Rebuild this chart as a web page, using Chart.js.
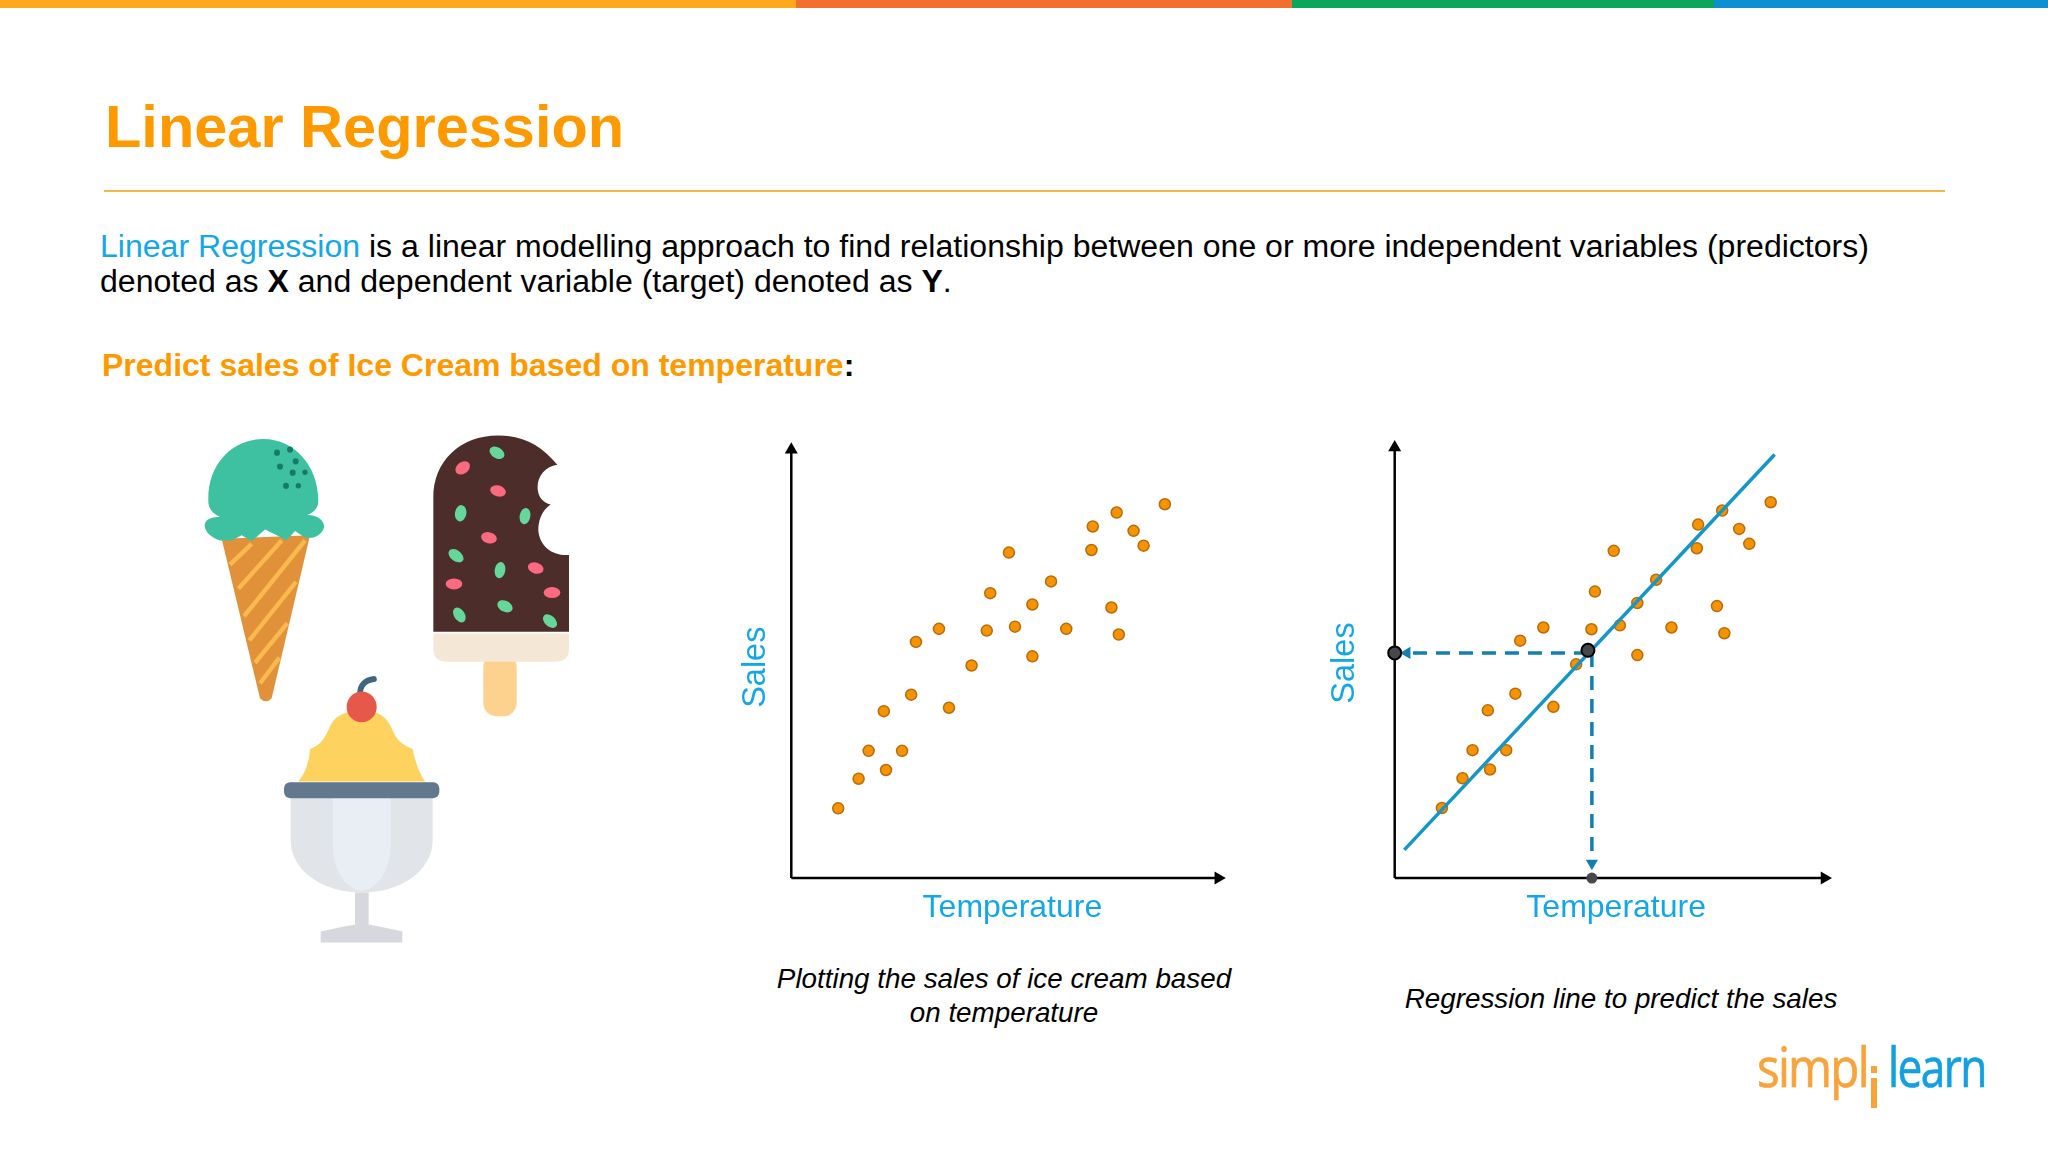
<!DOCTYPE html>
<html>
<head>
<meta charset="utf-8">
<title>Linear Regression</title>
<script src="https://cdn.jsdelivr.net/npm/chart.js@4"></script>
<style>
    body { margin: 0; background: #fff; width: 2048px; height: 1152px; overflow: hidden; position: relative; font-family: "Liberation Sans", Arial, sans-serif; }
    .abs { position: absolute; white-space: nowrap; }
    .bar { position: absolute; top: 0; height: 8px; }
    #title { left: 105px; top: 97px; font-size: 59.5px; line-height: 60px; font-weight: bold; color: #FF9900; }
    #rule { position: absolute; left: 104px; top: 190px; width: 1841px; height: 2px; background: #F4B64E; }
    #intro { left: 100px; top: 229px; font-size: 32.05px; line-height: 35px; color: #000; }
    #intro span { color: #13A7E8; }
    #subhead { left: 102px; top: 347px; font-size: 32px; line-height: 36px; font-weight: bold; color: #000; }
    #subhead span { color: #FF9900; }
    .caption { font-size: 27.8px; line-height: 34px; font-style: italic; color: #000; text-align: center; }
    canvas { position: absolute; }
    .logo { top: 1031px; font-family: "Open Sans", sans-serif; font-size: 54px; line-height: 70px; letter-spacing: -2px; -webkit-text-stroke: 0.7px; transform-origin: left center; }
</style>
</head>
<body>
<div class="bar" style="left:0;width:796px;background:#FFA81D"></div>
<div class="bar" style="left:796px;width:496px;background:#F36F2F"></div>
<div class="bar" style="left:1292px;width:422px;background:#0AA75A"></div>
<div class="bar" style="left:1714px;width:334px;background:#0E8FD0"></div>

<div class="abs" id="title">Linear Regression</div>
<div id="rule"></div>
<div class="abs" id="intro"><span>Linear Regression</span> is a linear modelling approach to find relationship between one or more independent variables (predictors)<br>denoted as <b>X</b> and dependent variable (target) denoted as <b>Y</b>.</div>
<div class="abs" id="subhead"><span>Predict sales of Ice Cream based on temperature</span>:</div>

<!-- ice cream pictures, drawn in the 3x crop coordinates -->
<svg class="abs" style="left:170px;top:420px" width="430" height="540" viewBox="0 0 1290 1568" preserveAspectRatio="none">
    <!-- cone -->
    <path d="M155 345 L420 335 L305 808 Q288 826 270 808 Z" fill="#E0913A"/>
    <g stroke="#F9B94F" stroke-width="13" fill="none">
        <path d="M180 420 L245 360"/><path d="M205 490 L335 350"/><path d="M222 570 L405 350"/>
        <path d="M238 640 L378 470"/><path d="M255 705 L352 590"/><path d="M270 765 L328 690"/>
    </g>
    <!-- scoop -->
    <path d="M115 235 C112 125 190 55 280 55 C370 55 445 130 445 235 C445 255 432 268 412 276 C445 276 465 295 462 312 C455 335 425 350 400 338 L375 322 L350 350 L320 335 L285 318 L245 352 L215 335 L185 350 L150 350 C120 340 100 320 105 300 C112 285 130 282 150 282 C125 270 115 255 115 235 Z" fill="#3DC1A1"/>
    <g fill="#177A66">
        <circle cx="321" cy="95" r="9"/><circle cx="360" cy="86" r="9"/><circle cx="377" cy="120" r="9"/><circle cx="330" cy="135" r="9"/>
        <circle cx="368" cy="153" r="9"/><circle cx="405" cy="152" r="8"/><circle cx="348" cy="191" r="9"/><circle cx="385" cy="191" r="8"/>
    </g>
    <!-- popsicle -->
    <rect x="940" y="680" width="100" height="180" rx="38" fill="#FDD28E"/>
    <path d="M790 620 H1197 V665 Q1197 702 1155 702 H832 Q790 702 790 665 Z" fill="#F5E7D5"/>
    <path d="M790 615 V225 C790 120 870 45 985 45 C1060 45 1115 75 1162 130 C1125 135 1100 165 1103 200 C1105 225 1120 240 1142 245 C1120 260 1105 285 1105 320 C1108 365 1145 395 1197 392 V615 Z" fill="#4D2D2A"/>
    <g fill="#FB6A7E">
        <ellipse cx="878" cy="139" rx="24" ry="17" transform="rotate(-35 878 139)"/><ellipse cx="984" cy="206" rx="24" ry="16" transform="rotate(15 984 206)"/>
        <ellipse cx="957" cy="342" rx="24" ry="16" transform="rotate(12 957 342)"/><ellipse cx="1097" cy="430" rx="24" ry="16" transform="rotate(15 1097 430)"/>
        <ellipse cx="852" cy="476" rx="25" ry="16"/><ellipse cx="1146" cy="501" rx="25" ry="16"/>
    </g>
    <g fill="#66D79B">
        <ellipse cx="981" cy="95" rx="24" ry="16" transform="rotate(30 981 95)"/><ellipse cx="872" cy="271" rx="24" ry="17" transform="rotate(-80 872 271)"/>
        <ellipse cx="1065" cy="279" rx="24" ry="16" transform="rotate(-80 1065 279)"/><ellipse cx="858" cy="394" rx="25" ry="16" transform="rotate(35 858 394)"/>
        <ellipse cx="990" cy="436" rx="24" ry="16" transform="rotate(-80 990 436)"/><ellipse cx="1005" cy="541" rx="24" ry="16" transform="rotate(25 1005 541)"/>
        <ellipse cx="868" cy="566" rx="24" ry="16" transform="rotate(55 868 566)"/><ellipse cx="1140" cy="584" rx="24" ry="16" transform="rotate(40 1140 584)"/>
    </g>
    <!-- sundae -->
    <path d="M385 1050 C410 1020 418 985 420 955 C450 945 465 925 480 890 C495 860 520 845 575 845 C630 845 650 860 670 905 C680 930 700 945 728 955 C735 990 745 1020 765 1050 Z" fill="#FDD25E"/>
    <path d="M570 795 C570 770 585 755 612 752" fill="none" stroke="#3F6580" stroke-width="17" stroke-linecap="round"/>
    <circle cx="575" cy="833" r="45" fill="#E6594A"/>
    <path d="M362 1095 H788 V1220 C788 1310 690 1372 575 1372 C460 1372 362 1310 362 1220 Z" fill="#E1E5E9"/>
    <path d="M488 1095 H662 V1230 C662 1300 630 1360 575 1368 C520 1360 488 1300 488 1230 Z" fill="#E9EEF5"/>
    <rect x="342" y="1052" width="466" height="46" rx="18" fill="#62798D"/>
    <path d="M555 1372 H596 V1465 Q650 1475 697 1485 V1517 H452 V1485 Q500 1475 555 1465 Z" fill="#D6D8DE"/>
</svg>

<canvas id="scatterChart" width="540" height="540" style="left:720px;top:420px"></canvas>
<canvas id="regressionChart" width="540" height="540" style="left:1320px;top:420px"></canvas>

<div class="abs caption" style="left:704px;width:600px;top:962px">Plotting the sales of ice cream based<br>on temperature</div>
<div class="abs caption" style="left:1321px;width:600px;top:982px">Regression line to predict the sales</div>

<div class="abs logo" style="left:1757px;color:#F9A33B;transform:scaleX(0.88)">simpl</div>
<div class="abs logo" style="left:1888px;color:#13A0E0;transform:scaleX(0.82)">learn</div>
<div class="abs" style="left:1871px;top:1066px;width:6px;height:7px;background:#F9A33B"></div>
<div class="abs" style="left:1871px;top:1078px;width:6px;height:30px;background:#F9A33B"></div>

<script>
// values, both axes run 0 to 100
const temperature = [10.8, 15.5, 17.8, 21.8, 25.5, 21.3, 27.6, 36.3, 28.7, 34.0, 41.5, 45.0, 45.8, 51.5, 55.5, 55.5, 50.1, 59.8, 63.3, 69.1, 69.4, 73.7, 75.4, 74.9, 78.8, 81.1, 86.0];
const sales = [16.0, 22.8, 29.2, 24.8, 29.2, 38.3, 42.1, 39.1, 54.2, 57.2, 48.8, 56.8, 65.4, 57.7, 50.9, 62.8, 74.7, 68.1, 57.2, 75.3, 80.7, 62.1, 55.9, 83.9, 79.7, 76.3, 85.8];

// regression line ends
const lineTemperature = [2.2, 86.9];
const lineSales = [6.45, 96.7];

// prediction
const fitTemperature = 44.2;
const fitSales = 52.0;
const predictedTemperature = 45.1;
const predictedSales = 51.4;

const BLUE = "#13A7E8";
const DASH_BLUE = "#127FB0";

const toPoints = (xs, ys) => xs.map((x, i) => ({ x: x, y: ys[i] }));

function scatterDataset() {
    return {
        type: "scatter",
        data: toPoints(temperature, sales),
        backgroundColor: "#F59300",
        borderColor: "#B96C0C",
        borderWidth: 1.5,
        pointRadius: 5.5,
        order: 5,
        clip: false,
    };
}

// the two axes with their arrow heads, the arrows sit just inside the 100 end
function axisDatasets() {
    const axisLine = (data) => ({
        type: "line",
        data: data,
        borderColor: "#000",
        borderWidth: 2.5,
        pointRadius: 0,
        order: 4,
        clip: false,
    });
    const arrow = (point, rotation) => ({
        type: "scatter",
        data: [point],
        pointStyle: "triangle",
        pointRotation: rotation,
        pointRadius: 7.5,
        backgroundColor: "#000",
        borderWidth: 0,
        order: 4,
        clip: false,
    });
    return [
        axisLine([{ x: 0, y: 0 }, { x: 98, y: 0 }]),
        axisLine([{ x: 0, y: 0 }, { x: 0, y: 98 }]),
        arrow({ x: 98.3, y: 0 }, 90),
        arrow({ x: 0, y: 98.3 }, 0),
    ];
}

// the ranges run a little past the axes so the titles land where the slide has them
function chartOptions(padding, xMax, yMin, xTitlePad, yTitlePad) {
    return {
        responsive: false,
        animation: false,
        layout: { padding: padding },
        plugins: { legend: { display: false }, tooltip: { enabled: false } },
        scales: {
            x: {
                type: "linear",
                min: 0,
                max: xMax,
                grid: { display: false, drawTicks: false },
                ticks: { display: false },
                border: { display: false },
                title: { display: true, text: "Temperature", color: BLUE, font: { size: 32, family: "Liberation Sans", lineHeight: 1 }, padding: { top: xTitlePad, bottom: 0 } },
            },
            y: {
                type: "linear",
                min: yMin,
                max: 100,
                grid: { display: false, drawTicks: false },
                ticks: { display: false },
                border: { display: false },
                title: { display: true, text: "Sales", color: BLUE, font: { size: 32.5, family: "Liberation Sans", lineHeight: 1 }, padding: { top: 0, bottom: yTitlePad } },
            },
        },
    };
}

new Chart(document.getElementById("scatterChart").getContext("2d"), {
    data: { datasets: [scatterDataset(), ...axisDatasets()] },
    options: chartOptions({ left: 19.8, right: 26.5, top: 22.4, bottom: 36 }, 101.8, -3.2, 0, 19),
});

new Chart(document.getElementById("regressionChart").getContext("2d"), {
    data: {
        datasets: [
            scatterDataset(),
            ...axisDatasets(),
            {
                type: "line",
                data: toPoints(lineTemperature, lineSales),
                borderColor: "#1496C8",
                borderWidth: 3.5,
                pointRadius: 0,
                order: 3,
            },
            {
                type: "line",
                data: [{ x: fitTemperature, y: predictedSales }, { x: 3, y: predictedSales }],
                borderColor: DASH_BLUE,
                borderWidth: 3.5,
                borderDash: [14, 9],
                pointRadius: 0,
                order: 2,
            },
            {
                type: "line",
                data: [{ x: predictedTemperature, y: predictedSales }, { x: predictedTemperature, y: 3 }],
                borderColor: DASH_BLUE,
                borderWidth: 3.5,
                borderDash: [14, 9],
                pointRadius: 0,
                order: 2,
            },
            // dashed line arrow heads
            {
                type: "scatter",
                data: [{ x: 2.8, y: predictedSales }],
                pointStyle: "triangle",
                pointRotation: -90,
                pointRadius: 7,
                backgroundColor: DASH_BLUE,
                borderWidth: 0,
                order: 2,
                clip: false,
            },
            {
                type: "scatter",
                data: [{ x: predictedTemperature, y: 3.4 }],
                pointStyle: "triangle",
                pointRotation: 180,
                pointRadius: 7,
                backgroundColor: DASH_BLUE,
                borderWidth: 0,
                order: 2,
                clip: false,
            },
            // predicted dots
            {
                type: "scatter",
                data: [{ x: fitTemperature, y: fitSales }, { x: 0, y: predictedSales }],
                backgroundColor: "#46484C",
                borderColor: "#000",
                borderWidth: 2,
                pointRadius: 6.5,
                order: 1,
                clip: false,
            },
            {
                type: "scatter",
                data: [{ x: predictedTemperature, y: 0 }],
                backgroundColor: "#46484C",
                borderWidth: 0,
                pointRadius: 5.5,
                order: 1,
                clip: false,
            },
        ],
    },
    options: chartOptions({ left: 8.7, right: 22.4, top: 20, bottom: 36 }, 101.3, -1.8, 6, 33.5),
});
</script>
</body>
</html>
